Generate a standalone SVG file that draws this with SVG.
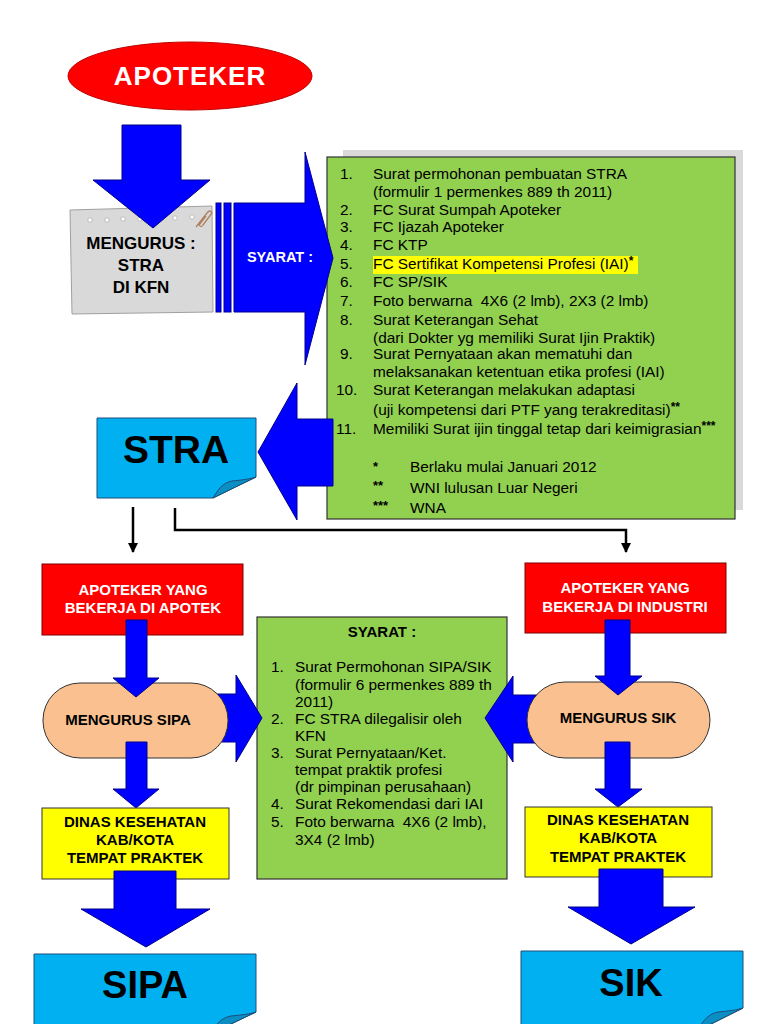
<svg xmlns="http://www.w3.org/2000/svg" width="768" height="1024" viewBox="0 0 768 1024">
<defs>
<style>
text{font-family:"Liberation Sans",Arial,Helvetica,sans-serif;}
.arr{fill:#0000ff;stroke:#00008b;stroke-width:1;stroke-linejoin:miter;}
.b{font-weight:bold;}
.w{fill:#ffffff;}
.k{fill:#000000;}
.t{font-size:15.4px;fill:#000;}
.h{font-size:15px;font-weight:bold;}
.red{fill:#ff0000;stroke:#7f0000;stroke-width:1;}
.yel{fill:#ffff00;stroke:#333;stroke-width:1;}
.grn{fill:#92d050;stroke:#333;stroke-width:1.2;}
.pill{fill:#fac090;stroke:#333;stroke-width:1;}
.doc{fill:#00b0f0;stroke:#1f4e79;stroke-width:1;}
.flap{fill:#0a8ec4;stroke:#1f4e79;stroke-width:1;}
.con{fill:none;stroke:#000;stroke-width:2.5;}
</style>
<marker id="ah" viewBox="0 0 10 10" refX="9" refY="5" markerWidth="4" markerHeight="4" orient="auto" markerUnits="strokeWidth">
<path d="M0,0 L10,5 L0,10 Z" fill="#000"/>
</marker>
</defs>
<rect width="768" height="1024" fill="#ffffff"/>

<!-- APOTEKER -->
<g id="apoteker">
<ellipse cx="190" cy="76" rx="122" ry="34" fill="#ff0000" stroke="#c00000" stroke-width="1"/>
<text x="190" y="85" text-anchor="middle" class="b w" font-size="26" letter-spacing="1">APOTEKER</text>
</g>

<!-- mengurus note -->
<g id="mengurus-stra">
<polygon points="70,210 212,206 213,312 72,314" fill="#d9d9d9" stroke="#a0a0a0" stroke-width="1"/>
<g fill="#ffffff" stroke="#b0b0b0" stroke-width="0.8">
<circle cx="90" cy="220" r="2.2"/><circle cx="107" cy="220" r="2.2"/><circle cx="123" cy="219" r="2.2"/><circle cx="140" cy="219" r="2.2"/><circle cx="157" cy="218" r="2.2"/><circle cx="175" cy="218" r="2.2"/><circle cx="192" cy="217" r="2.2"/>
</g>
<path d="M196,227 L207,213 Q210,209 212,213 L203,225 Q201,228 199,225 L206,216" fill="none" stroke="#b08060" stroke-width="1.3"/>
<text x="141" y="249" text-anchor="middle" class="b k" font-size="17">MENGURUS :</text>
<text x="141" y="271" text-anchor="middle" class="b k" font-size="17">STRA</text>
<text x="141" y="293" text-anchor="middle" class="b k" font-size="17">DI KFN</text>
</g>

<!-- Arrow apoteker -> note -->
<polygon class="arr" points="122,125 181,125 181,180 210,180 153,228 93,180 122,180"/>

<!-- Green box STRA requirements -->
<g id="syarat-stra">
<rect x="343" y="150" width="400" height="360" fill="#d9d9d9"/>
<rect class="grn" x="327" y="157" width="408" height="362"/>
<rect x="373" y="256" width="265" height="18" fill="#ffff00"/>
<g class="t">
<text x="340" y="179">1.</text><text x="373" y="179">Surat permohonan pembuatan STRA</text>
<text x="373" y="197">(formulir 1 permenkes 889 th 2011)</text>
<text x="340" y="215">2.</text><text x="373" y="215">FC Surat Sumpah Apoteker</text>
<text x="340" y="232">3.</text><text x="373" y="232">FC Ijazah Apoteker</text>
<text x="340" y="250">4.</text><text x="373" y="250">FC KTP</text>
<text x="340" y="269">5.</text><text x="373" y="269">FC Sertifikat Kompetensi Profesi (IAI)<tspan font-size="12" font-weight="bold" dy="-4">*</tspan></text>
<text x="340" y="287">6.</text><text x="373" y="287">FC SP/SIK</text>
<text x="340" y="306">7.</text><text x="373" y="306">Foto berwarna&#160; 4X6 (2 lmb), 2X3 (2 lmb)</text>
<text x="340" y="325">8.</text><text x="373" y="325">Surat Keterangan Sehat</text>
<text x="373" y="343">(dari Dokter yg memiliki Surat Ijin Praktik)</text>
<text x="340" y="359">9.</text><text x="373" y="359">Surat Pernyataan akan mematuhi dan</text>
<text x="373" y="377">melaksanakan ketentuan etika profesi (IAI)</text>
<text x="336" y="395">10.</text><text x="373" y="395">Surat Keterangan melakukan adaptasi</text>
<text x="373" y="415">(uji kompetensi dari PTF yang terakreditasi)<tspan font-size="12" font-weight="bold" dy="-4">**</tspan></text>
<text x="336" y="434">11.</text><text x="373" y="434">Memiliki Surat ijin tinggal tetap dari keimigrasian<tspan font-size="12" font-weight="bold" dy="-4">***</tspan></text>
<text x="373" y="471" font-weight="bold" font-size="13">*</text><text x="410" y="472">Berlaku mulai Januari 2012</text>
<text x="373" y="490" font-weight="bold" font-size="13">**</text><text x="410" y="493">WNI lulusan Luar Negeri</text>
<text x="373" y="510" font-weight="bold" font-size="13">***</text><text x="410" y="513">WNA</text>
</g>
</g>

<!-- SYARAT big arrow -->
<g id="syarat-arrow">
<rect x="216" y="203" width="5" height="109" class="arr"/>
<rect x="224" y="203" width="7" height="109" class="arr"/>
<polygon class="arr" points="234,203 305,203 305,152 333,258 305,365 305,312 234,312"/>
<text x="280" y="262" text-anchor="middle" class="b w" font-size="14.5">SYARAT :</text>
</g>

<!-- back arrow to STRA -->
<polygon class="arr" points="333,419 297,419 297,383 258,452 297,520 297,486 333,486"/>

<!-- STRA doc -->
<g id="stra">
<path class="doc" d="M97,418 H256 V477 L213,498 H97 Z"/>
<path class="flap" d="M256,477 L213,498 C218,490 222,483 232,481 C242,480 250,479 256,477 Z"/>
<text x="176" y="463" text-anchor="middle" class="b k" font-size="39">STRA</text>
</g>

<!-- connectors -->
<g id="connectors">
<line class="con" x1="133" y1="507" x2="133" y2="552" stroke-width="2" marker-end="url(#ah)"/>
<polyline class="con" points="175,508 175,530 626,530 626,552" marker-end="url(#ah)"/>
</g>

<!-- Left column -->
<g id="apoteker-apotek">
<rect class="red" x="42" y="564" width="201" height="71"/>
<text x="143" y="595" text-anchor="middle" class="h w">APOTEKER YANG</text>
<text x="143" y="613" text-anchor="middle" class="h w">BEKERJA DI APOTEK</text>
</g>

<!-- middle green -->
<g id="syarat-sipa-sik">
<rect class="grn" x="257" y="617" width="250" height="262"/>
<text x="382" y="637" text-anchor="middle" class="h k">SYARAT :</text>
<g class="t">
<text x="271" y="672">1.</text><text x="295" y="672">Surat Permohonan SIPA/SIK</text>
<text x="295" y="690">(formulir 6 permenkes 889 th</text>
<text x="295" y="707">2011)</text>
<text x="271" y="724">2.</text><text x="295" y="724">FC STRA dilegalisir oleh</text>
<text x="295" y="741">KFN</text>
<text x="271" y="758">3.</text><text x="295" y="758">Surat Pernyataan/Ket.</text>
<text x="295" y="775">tempat praktik profesi</text>
<text x="295" y="792">(dr pimpinan perusahaan)</text>
<text x="271" y="809">4.</text><text x="295" y="809">Surat Rekomendasi dari IAI</text>
<text x="271" y="827">5.</text><text x="295" y="827">Foto berwarna&#160; 4X6 (2 lmb),</text>
<text x="295" y="845">3X4 (2 lmb)</text>
</g>
</g>

<!-- SIPA side arrow (behind pill) -->
<polygon class="arr" points="215,694 236,694 236,675 262,718 236,762 236,742 215,742"/>
<g id="mengurus-sipa">
<rect class="pill" x="43" y="683" width="185" height="75" rx="37" ry="37"/>
<text x="128" y="725" text-anchor="middle" class="h k">MENGURUS SIPA</text>
</g>
<polygon class="arr" points="126,620 147,620 147,678 159,678 136,697 113,678 126,678"/>
<polygon class="arr" points="126,742 147,742 147,789 159,789 136,808 113,789 126,789"/>

<g id="dinkes-sipa">
<rect class="yel" x="42" y="808" width="187" height="71"/>
<text x="135" y="827" text-anchor="middle" class="h k">DINAS KESEHATAN</text>
<text x="135" y="845" text-anchor="middle" class="h k">KAB/KOTA</text>
<text x="135" y="863" text-anchor="middle" class="h k">TEMPAT PRAKTEK</text>
</g>
<polygon class="arr" points="114,871 176,871 176,909 210,909 146,947 81,909 114,909"/>

<g id="sipa">
<path class="doc" d="M34,954 H256 V1012 L210,1034 H34 Z"/>
<path class="flap" d="M256,1012 L210,1034 C215,1026 220,1018 231,1016 C242,1015 250,1014 256,1012 Z"/>
<text x="145" y="998" text-anchor="middle" class="b k" font-size="38">SIPA</text>
</g>

<!-- Right column -->
<g id="apoteker-industri">
<rect class="red" x="525" y="563" width="201" height="70"/>
<text x="625" y="593" text-anchor="middle" class="h w">APOTEKER YANG</text>
<text x="625" y="612" text-anchor="middle" class="h w">BEKERJA DI INDUSTRI</text>
</g>
<polygon class="arr" points="545,695 513,695 513,676 485,718 513,762 513,743 545,743"/>
<g id="mengurus-sik">
<rect class="pill" x="527" y="682" width="183" height="76" rx="38" ry="38"/>
<text x="618" y="723" text-anchor="middle" class="h k">MENGURUS SIK</text>
</g>
<polygon class="arr" points="605,620 630,620 630,676 642,676 618,695 595,676 605,676"/>
<polygon class="arr" points="605,742 630,742 630,789 642,789 618,807 595,789 605,789"/>

<g id="dinkes-sik">
<rect class="yel" x="525" y="807" width="187" height="70"/>
<text x="618" y="825" text-anchor="middle" class="h k">DINAS KESEHATAN</text>
<text x="618" y="843" text-anchor="middle" class="h k">KAB/KOTA</text>
<text x="618" y="862" text-anchor="middle" class="h k">TEMPAT PRAKTEK</text>
</g>
<polygon class="arr" points="599,869 663,869 663,907 695,907 631,944 568,907 599,907"/>

<g id="sik">
<path class="doc" d="M521,951 H743 V1008 L697,1031 H521 Z"/>
<path class="flap" d="M743,1008 L697,1031 C702,1023 707,1014 718,1012 C729,1011 737,1010 743,1008 Z"/>
<text x="631" y="996" text-anchor="middle" class="b k" font-size="38">SIK</text>
</g>
</svg>
